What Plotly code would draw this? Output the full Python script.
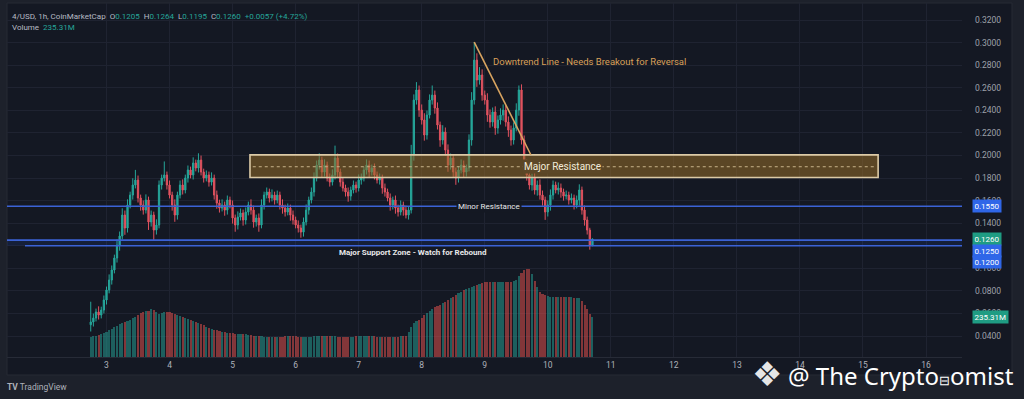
import plotly.graph_objects as go
import pandas as pd

# ---------------- data ----------------
start_time = "2025-03-02 18:00"   # first hourly candle (day 2, 18:00)
first_open = 0.0500

close = [
    0.0524, 0.0559, 0.0613, 0.0586, 0.0630, 0.0719, 0.0808, 0.0896, 0.0985, 0.1091,
    0.1206, 0.1286, 0.1472, 0.1357, 0.1561, 0.1649, 0.1738, 0.1782, 0.1623, 0.1561,
    0.1516, 0.1605, 0.1410, 0.1472, 0.1339, 0.1384, 0.1738, 0.1800, 0.1827, 0.1738,
    0.1649, 0.1561, 0.1472, 0.1649, 0.1738, 0.1694, 0.1800, 0.1871, 0.1827, 0.1933,
    0.1889, 0.1959, 0.1853, 0.1800, 0.1827, 0.1764, 0.1800, 0.1649, 0.1578, 0.1534,
    0.1561, 0.1516, 0.1605, 0.1561, 0.1446, 0.1384, 0.1454, 0.1490, 0.1428, 0.1499,
    0.1561, 0.1516, 0.1410, 0.1446, 0.1384, 0.1561, 0.1649, 0.1676, 0.1623, 0.1649,
    0.1605, 0.1649, 0.1561, 0.1534, 0.1499, 0.1534, 0.1472, 0.1428, 0.1384, 0.1357,
    0.1321, 0.1410, 0.1516, 0.1605, 0.1676, 0.1800, 0.1915, 0.1959, 0.1853, 0.1915,
    0.1800, 0.1764, 0.1827, 0.1977, 0.1853, 0.1764, 0.1711, 0.1676, 0.1640, 0.1694,
    0.1738, 0.1711, 0.1782, 0.1800, 0.1871, 0.1915, 0.1853, 0.1889, 0.1827, 0.1782,
    0.1800, 0.1711, 0.1676, 0.1623, 0.1561, 0.1605, 0.1534, 0.1499, 0.1561, 0.1516,
    0.1472, 0.1516, 0.2004, 0.2491, 0.2580, 0.2402, 0.2314, 0.2181, 0.2358, 0.2491,
    0.2535, 0.2420, 0.2270, 0.2137, 0.2208, 0.2048, 0.1915, 0.1977, 0.1853, 0.1800,
    0.1871, 0.1915, 0.1853, 0.1889, 0.2137, 0.2491, 0.2845, 0.2668, 0.2713, 0.2535,
    0.2491, 0.2358, 0.2296, 0.2385, 0.2243, 0.2314, 0.2358, 0.2402, 0.2296, 0.2225,
    0.2137, 0.2243, 0.2402, 0.2580, 0.2137, 0.1915, 0.1827, 0.1738, 0.1800, 0.1694,
    0.1738, 0.1649, 0.1605, 0.1499, 0.1561, 0.1649, 0.1738, 0.1694, 0.1711, 0.1676,
    0.1640, 0.1649, 0.1605, 0.1623, 0.1561, 0.1605, 0.1694, 0.1516, 0.1428, 0.1339,
    0.1205, 0.1260,
]

upper_wick = [
    0.018, 0.004, 0.003, 0.005, 0.003, 0.004, 0.003, 0.005, 0.004, 0.003,
    0.005, 0.004, 0.006, 0.004, 0.005, 0.003, 0.006, 0.009, 0.004, 0.003,
    0.004, 0.005, 0.003, 0.004, 0.003, 0.005, 0.004, 0.003, 0.012, 0.003,
    0.004, 0.003, 0.005, 0.003, 0.004, 0.005, 0.003, 0.004, 0.003, 0.005,
    0.003, 0.006, 0.004, 0.003, 0.004, 0.003, 0.005, 0.003, 0.004, 0.003,
    0.005, 0.003, 0.004, 0.003, 0.004, 0.003, 0.005, 0.004, 0.003, 0.004,
    0.003, 0.005, 0.004, 0.003, 0.004, 0.005, 0.003, 0.004, 0.003, 0.005,
    0.003, 0.004, 0.003, 0.005, 0.003, 0.004, 0.003, 0.004, 0.003, 0.004,
    0.003, 0.004, 0.005, 0.003, 0.004, 0.005, 0.004, 0.006, 0.003, 0.005,
    0.003, 0.004, 0.005, 0.011, 0.004, 0.003, 0.004, 0.003, 0.004, 0.003,
    0.004, 0.003, 0.005, 0.004, 0.003, 0.005, 0.004, 0.003, 0.004, 0.003,
    0.004, 0.003, 0.004, 0.003, 0.004, 0.003, 0.004, 0.003, 0.004, 0.003,
    0.004, 0.003, 0.009, 0.005, 0.007, 0.004, 0.005, 0.006, 0.004, 0.005,
    0.0085, 0.004, 0.005, 0.003, 0.006, 0.004, 0.005, 0.004, 0.003, 0.004,
    0.003, 0.005, 0.004, 0.003, 0.005, 0.007, 0.016, 0.006, 0.007, 0.005,
    0.004, 0.006, 0.005, 0.004, 0.005, 0.004, 0.006, 0.005, 0.004, 0.005,
    0.004, 0.005, 0.006, 0.004, 0.005, 0.004, 0.005, 0.003, 0.004, 0.005,
    0.004, 0.005, 0.004, 0.003, 0.004, 0.005, 0.004, 0.003, 0.005, 0.004,
    0.003, 0.004, 0.003, 0.004, 0.003, 0.004, 0.005, 0.003, 0.004, 0.003,
    0.002, 0.0004,
]

lower_wick = [
    0.006, 0.004, 0.003, 0.004, 0.003, 0.003, 0.004, 0.003, 0.004, 0.003,
    0.004, 0.005, 0.003, 0.006, 0.004, 0.003, 0.004, 0.003, 0.004, 0.005,
    0.004, 0.003, 0.007, 0.004, 0.009, 0.004, 0.003, 0.004, 0.003, 0.004,
    0.003, 0.005, 0.006, 0.004, 0.003, 0.004, 0.003, 0.004, 0.003, 0.004,
    0.003, 0.004, 0.003, 0.004, 0.003, 0.004, 0.003, 0.004, 0.005, 0.004,
    0.003, 0.005, 0.004, 0.003, 0.005, 0.006, 0.004, 0.003, 0.005, 0.004,
    0.003, 0.004, 0.005, 0.004, 0.006, 0.003, 0.004, 0.003, 0.004, 0.003,
    0.004, 0.003, 0.004, 0.005, 0.004, 0.003, 0.005, 0.004, 0.003, 0.004,
    0.005, 0.004, 0.003, 0.004, 0.003, 0.004, 0.003, 0.004, 0.005, 0.004,
    0.003, 0.004, 0.003, 0.004, 0.005, 0.004, 0.003, 0.004, 0.005, 0.004,
    0.003, 0.004, 0.003, 0.004, 0.003, 0.004, 0.005, 0.003, 0.004, 0.003,
    0.004, 0.005, 0.004, 0.003, 0.005, 0.004, 0.005, 0.004, 0.003, 0.005,
    0.003, 0.004, 0.003, 0.005, 0.004, 0.006, 0.004, 0.005, 0.004, 0.003,
    0.004, 0.005, 0.004, 0.006, 0.004, 0.005, 0.006, 0.004, 0.005, 0.006,
    0.004, 0.003, 0.005, 0.004, 0.003, 0.005, 0.004, 0.006, 0.004, 0.005,
    0.004, 0.006, 0.005, 0.004, 0.006, 0.005, 0.004, 0.005, 0.004, 0.006,
    0.005, 0.004, 0.003, 0.005, 0.004, 0.006, 0.005, 0.004, 0.005, 0.004,
    0.005, 0.004, 0.005, 0.007, 0.004, 0.005, 0.004, 0.003, 0.004, 0.005,
    0.004, 0.003, 0.004, 0.003, 0.004, 0.003, 0.005, 0.004, 0.005, 0.004,
    0.004, 0.001,
]

volume_m = [
    118, 121, 125, 129, 133, 140, 150, 158, 165,
    175, 185, 192, 200, 207, 213, 218,
    228, 238, 248, 256, 262, 268, 271,
    282, 275, 262,
    253, 258, 262, 265,
    262, 258, 252, 247, 241,
    236, 230, 224, 218, 212, 206, 200,
    193, 186, 178, 170, 165,
    160, 156, 152, 149, 146, 143, 141, 139, 138, 137, 136, 135, 135,
    130, 128, 126, 124, 122, 121, 120, 119, 118, 118,
    117, 118, 119, 120, 121, 122, 123, 122, 121, 120,
    119, 118, 117, 118, 120, 122, 124, 125, 126, 125,
    124, 123, 122, 121, 120, 120, 119, 118, 118, 119,
    120, 121, 122, 123, 124, 124, 123, 122, 121, 120,
    119, 118, 117, 116, 117, 118, 119, 120, 121, 122,
    124,
    150, 175, 200, 210, 220,
    232, 245, 260, 272, 285, 294, 300, 306,
    315, 325, 335, 345, 355, 365, 375, 385,
    392, 398, 404, 410, 418,
    425, 432, 438, 441, 441, 440, 441, 442, 440, 441, 441, 442, 440, 441, 445, 455,
    475, 495, 510, 518, 515,
    490, 450, 410, 382,
    370, 362, 356, 353, 353,
    352, 353, 354, 353, 352, 352, 351, 350, 348, 345,
    330, 305, 280, 255, 235.31,
]

price_ticks = [0.04, 0.06, 0.08, 0.10, 0.12, 0.14, 0.16, 0.18, 0.20,
               0.22, 0.24, 0.26, 0.28, 0.30, 0.32]
day_ticks = [3, 4, 5, 6, 7, 8, 9, 10, 11, 12, 13, 14, 15, 16]

# annotation levels
major_res_low, major_res_high, major_res_mid = 0.1805, 0.2005, 0.19
minor_res = 0.155
support_high, support_low = 0.125, 0.12
last_price = 0.1260
last_volume = 235.31
trend_start_price, trend_end_price = 0.3005, 0.2004

assert len(close) == len(upper_wick) == len(lower_wick) == len(volume_m)

# ---------------- derived ----------------
time = pd.date_range(start_time, periods=len(close), freq="h")
opens = [first_open] + close[:-1]
highs = [max(o, c) + u for o, c, u in zip(opens, close, upper_wick)]
lows = [min(o, c) - d for o, c, d in zip(opens, close, lower_wick)]

GREEN = "#26a69a"
RED = "#e0525f"
vol_colors = ["rgba(38,166,154,0.5)" if c >= o else "rgba(239,83,80,0.5)"
              for o, c in zip(opens, close)]

base = pd.Timestamp("2025-03-01")


def day(d):
    return base + pd.Timedelta(days=d - 1)


# pixel helpers for paper coordinates (plot area px 7..962, py 3..357)
def px(x):
    return (x - 7) / 955.0


def py(y):
    return (357 - y) / 354.0


BG = "#141823"
FONT = "Roboto"

fig = go.Figure()
fig.add_trace(go.Bar(
    x=time, y=volume_m, marker=dict(color=vol_colors, line=dict(width=0)),
    width=0.8 * 3600 * 1000, yaxis="y2", hoverinfo="skip", showlegend=False,
))
fig.add_trace(go.Candlestick(
    x=time, open=opens, high=highs, low=lows, close=close,
    increasing=dict(line=dict(color=GREEN, width=1), fillcolor=GREEN),
    decreasing=dict(line=dict(color=RED, width=1), fillcolor=RED),
    whiskerwidth=0, showlegend=False,
))

shapes = []
# frame behind the chart
shapes.append(dict(type="rect", xref="paper", yref="paper", x0=0, x1=px(1012),
                   y0=py(375), y1=py(3), fillcolor=BG,
                   line=dict(color="#262a35", width=1), layer="below"))
# support zone fill and lines
shapes.append(dict(type="rect", xref="paper", yref="y", x0=0, x1=1,
                   y0=support_low, y1=support_high,
                   fillcolor="rgba(41,98,255,0.10)", line=dict(width=0)))
shapes.append(dict(type="line", xref="paper", yref="y", x0=0, x1=1,
                   y0=support_high, y1=support_high,
                   line=dict(color="#3b62d6", width=1.6)))
shapes.append(dict(type="line", xref="paper", yref="y", x0=px(25), x1=1,
                   y0=support_low, y1=support_low,
                   line=dict(color="#3b62d6", width=1.6)))
# minor resistance
shapes.append(dict(type="line", xref="paper", yref="y", x0=0, x1=1,
                   y0=minor_res, y1=minor_res,
                   line=dict(color="#3b62d6", width=1.6)))
# major resistance box
shapes.append(dict(type="rect", xref="x", yref="y", x0=day(5.276), x1=day(15.24),
                   y0=major_res_low, y1=major_res_high,
                   fillcolor="rgba(150,110,40,0.55)",
                   line=dict(color="#dccaa6", width=1.6), layer="above"))
shapes.append(dict(type="line", xref="x", yref="y", x0=day(5.32), x1=day(15.2),
                   y0=major_res_mid, y1=major_res_mid,
                   line=dict(color="#c9b38a", width=1, dash="3px,3px")))
# downtrend line
shapes.append(dict(type="line", xref="x", yref="y", x0=day(8.833), x1=day(9.733),
                   y0=trend_start_price, y1=trend_end_price,
                   line=dict(color="#d9a460", width=1.6)))

ann = []
ann.append(dict(xref="x", yref="y", x=day(10.241), y=major_res_mid,
                text="Major Resistance", showarrow=False,
                xanchor="center", yanchor="middle",
                font=dict(family=FONT, size=10, color="#f3ebda"),
                bgcolor="#5c4727", borderpad=1))
ann.append(dict(xref="x", yref="y", x=day(9.068), y=minor_res,
                text="Minor Resistance", showarrow=False,
                xanchor="center", yanchor="middle",
                font=dict(family=FONT, size=8, color="#e8e8ea"),
                bgcolor=BG, borderpad=1))
ann.append(dict(xref="x", yref="paper", x=day(7.862), y=py(252),
                xanchor="center", yanchor="middle",
                text="<b>Major Support Zone - Watch for Rebound</b>", showarrow=False,
                font=dict(family=FONT, size=8, color="#e8e8ea")))
ann.append(dict(xref="x", yref="paper", x=day(9.099), y=py(61), xanchor="left",
                yanchor="middle",
                text="Downtrend Line - Needs Breakout for Reversal", showarrow=False,
                font=dict(family=FONT, size=9.5, color="#d9a05a")))

g = "<span style='color:#26a69a'>%s</span>"
nb = "\u00a0"
header = ("4/USD, 1h, CoinMarketCap" + nb * 2 + "O" + g % "0.1205" + nb * 2 + "H" + g % "0.1264"
          + nb * 2 + "L" + g % "0.1195" + nb * 2 + "C" + g % "0.1260" + nb * 2
          + g % "+0.0057 (+4.72%)")
ann.append(dict(xref="paper", yref="paper", x=px(10), y=py(17), xanchor="left",
                yanchor="middle", text=header, showarrow=False,
                font=dict(family=FONT, size=8, color="#b8bbc4")))
ann.append(dict(xref="paper", yref="paper", x=px(10), y=py(28), xanchor="left",
                yanchor="middle", text="Volume" + nb * 2 + g % "235.31M", showarrow=False,
                font=dict(family=FONT, size=8, color="#b8bbc4")))

# right-side price labels
BLUE = "#2f66e8"
for val, yv, col in [(minor_res, minor_res, BLUE),
                     (last_price, last_price, "#1f9c83"),
                     (support_high, 0.1153, BLUE),
                     (support_low, 0.1056, BLUE)]:
    ann.append(dict(xref="paper", yref="y", x=px(972), y=yv, xanchor="left",
                    yanchor="middle",
                    text="%.4f" % val, showarrow=False, bgcolor=col, borderpad=1.5,
                    font=dict(family=FONT, size=8, color="#ffffff")))
ann.append(dict(xref="paper", yref="y2", x=px(972), y=last_volume, xanchor="left",
                yanchor="middle",
                text="%.2fM" % last_volume, showarrow=False, bgcolor="#1f9c83",
                borderpad=1.5, font=dict(family=FONT, size=8, color="#ffffff")))

# watermark and footer
ann.append(dict(xref="paper", yref="paper", x=px(767), y=py(374),
                xanchor="center", yanchor="middle",
                text="\u2756", showarrow=False,
                font=dict(family="DejaVu Sans", size=34, color="#e6e6e6")))
ann.append(dict(xref="paper", yref="paper", x=px(786), y=py(375), xanchor="left",
                yanchor="middle",
                text="@ The Crypto<span style='font-size:13px'>\u229f</span>omist",
                showarrow=False,
                font=dict(family="Noto Sans", size=24, color="#ffffff")))
ann.append(dict(xref="paper", yref="paper", x=px(5), y=py(387), xanchor="left",
                yanchor="middle", text="<b>TV</b> TradingView", showarrow=False,
                font=dict(family=FONT, size=8.5, color="#aeb1ba")))

fig.update_layout(
    width=1024, height=399, autosize=False,
    margin=dict(l=7, r=62, t=3, b=42, pad=0),
    paper_bgcolor="#1d212b", plot_bgcolor=BG,
    shapes=shapes, annotations=ann, bargap=0, showlegend=False,
    xaxis=dict(
        type="date", range=[day(1.4216), day(16.5706)],
        tickmode="array", tickvals=[day(d) for d in day_ticks],
        ticktext=[str(d) for d in day_ticks],
        showgrid=True, gridcolor="#1f2331", gridwidth=1,
        showline=True, linecolor="#272b37", linewidth=1,
        tickfont=dict(family=FONT, size=8.5, color="#aeb1ba"),
        rangeslider=dict(visible=False), zeroline=False, fixedrange=True,
    ),
    yaxis=dict(
        side="right", range=[0.0214, 0.3351], tickvals=price_ticks,
        tickformat=".4f", showgrid=True, gridcolor="#1f2331", gridwidth=1,
        zeroline=False, ticks="", ticklabelstandoff=12,
        tickfont=dict(family=FONT, size=8.5, color="#9ea1aa"),
    ),
    yaxis2=dict(overlaying="y", range=[0, 2082.5], visible=False,
                showgrid=False, zeroline=False),
)

fig.write_html(
    "out.html",
    config={"displayModeBar": False},
    post_script="document.body.style.margin='0';document.body.style.background='#1d212b';",
)
